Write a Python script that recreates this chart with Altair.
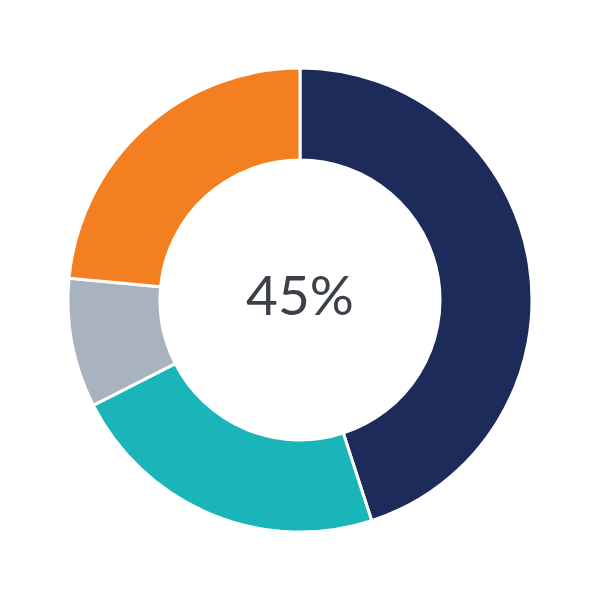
import altair as alt
import pandas as pd

categories = ["A", "B", "C", "D"]
values = [45, 22.5, 9, 23.5]
colors = ["#1c2b5a", "#1ab5b8", "#a9b3c0", "#f47f20"]
center_label = "45%"

df = pd.DataFrame({"cat": categories, "value": values, "idx": list(range(len(categories)))})

arc = alt.Chart(df).mark_arc(outerRadius=232, innerRadius=140, stroke="white", strokeWidth=3).encode(
    theta=alt.Theta("value:Q", stack=True),
    color=alt.Color("cat:N", scale=alt.Scale(domain=categories, range=colors), legend=None),
    order=alt.Order("idx:Q"),
)

text = alt.Chart(pd.DataFrame({"t": [center_label]})).mark_text(
    font="Lato", fontSize=55, color="#3b4049", baseline="middle", align="center"
).encode(text="t:N", x=alt.value(292), y=alt.value(290))

chart = (arc + text).properties(width=584, height=584, padding=0, autosize="none").configure_view(stroke=None)
chart.save("out.html", embed_options={"renderer": "svg", "actions": False})
